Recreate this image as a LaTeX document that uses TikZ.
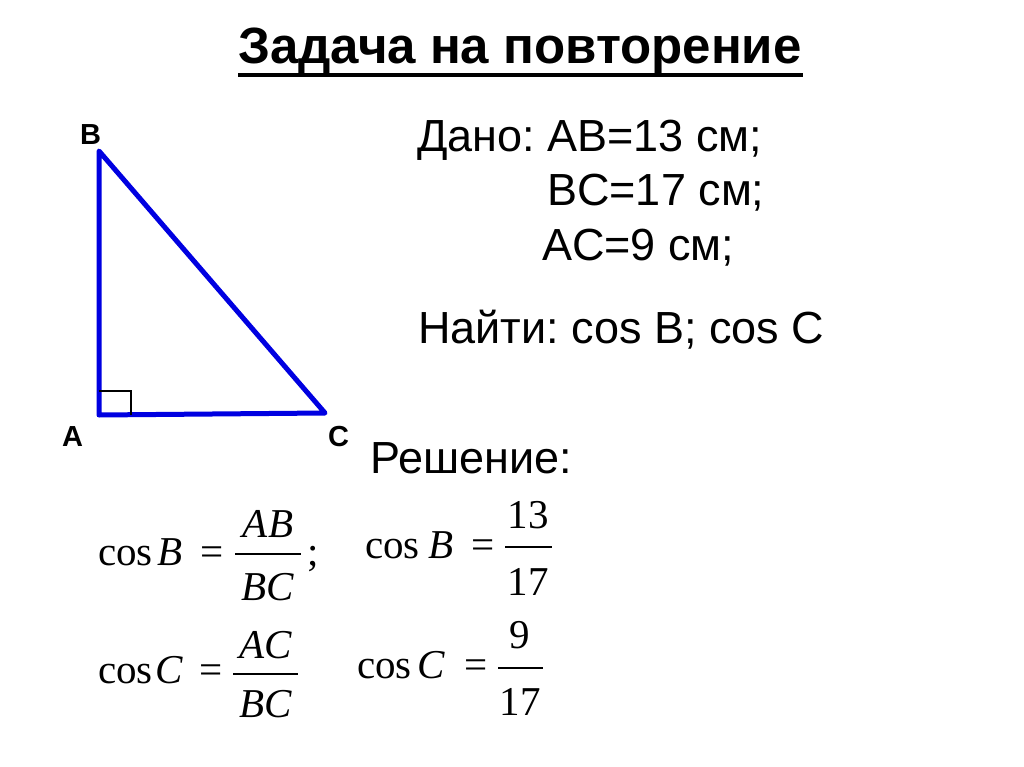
\documentclass[tikz,border=0pt]{standalone}
\usepackage[no-math]{fontspec}
\setmainfont{Liberation Sans}
\newfontfamily\timesfont{Liberation Serif}
\definecolor{seite}{RGB}{0,0,225}
\frenchspacing
\begin{document}
\begin{tikzpicture}[x=1pt,y=-1pt,
    txt/.style={inner sep=0pt,anchor=base west,font=\fontsize{45}{54}\selectfont},
    ecke/.style={inner sep=0pt,anchor=base west,font=\fontsize{29}{34}\selectfont\bfseries},
    frm/.style={inner sep=0pt,anchor=base west,font=\fontsize{41}{49}\timesfont},
    bruch/.style={inner sep=0pt,anchor=base,font=\fontsize{41}{49}\timesfont},
    strich/.style={line width=2pt}]
    \useasboundingbox (0,0) rectangle (1024,767);
    % Titel
    \node[inner sep=0pt,anchor=base west,font=\fontsize{51}{61}\selectfont\bfseries] (titel) at (238,64) {Задача на повторение};
    \draw[line width=4pt] (titel.base west) ++(0,11) -- ++(565,0);
    % Dreieck
    \coordinate (A) at (99,415);
    \coordinate (B) at (99,151);
    \coordinate (C) at (325,413);
    \draw[seite,line width=5pt,line join=round] (A) -- (B) -- (C) -- cycle;
    \draw[line width=2pt] (99,391) -- (131,391) -- (131,415);
    \node[ecke] (lB) at (80,145) {B};
    \node[ecke] (lA) at (62,446) {A};
    \node[ecke] (lC) at (328,446) {C};
    % Gegeben
    \node[txt] (geg1) at (417,152) {Дано: AB=13 см;};
    \node[txt] (geg2) at (547,206) {BC=17 см;};
    \node[txt] (geg3) at (542,260) {AC=9 см;};
    \node[txt] (ges) at (418,343) {Найти: cos B; cos C};
    \node[txt] (loes) at (370,473) {Решение:};
    % Formeln links
    \node[frm] (cos1) at (98,565) {cos};
    \node[frm] (b1) at (157,565) {\textit{B}};
    \node[frm] (gl1) at (200,565) {=};
    \draw[strich] (235,554) -- (301,554);
    \node[bruch] (zB1) at (268,537) {\textit{AB}};
    \node[bruch] (nB1) at (268,600) {\textit{BC}};
    \node[frm] (semi) at (307,565) {;};
    \node[frm] (cos2) at (98,683) {cos};
    \node[frm] (c2) at (155,683) {\textit{C}};
    \node[frm] (gl2) at (199,683) {=};
    \draw[strich] (233,674) -- (298,674);
    \node[bruch] (zC1) at (266,658) {\textit{AC}};
    \node[bruch] (nC1) at (266,717) {\textit{BC}};
    % Formeln rechts
    \node[frm] (cos3) at (365,558) {cos};
    \node[frm] (b3) at (428,558) {\textit{B}};
    \node[frm] (gl3) at (471,558) {=};
    \draw[strich] (505,547) -- (552,547);
    \node[bruch] (zB2) at (528,528) {13};
    \node[bruch] (nB2) at (528,595) {17};
    \node[frm] (cos4) at (357,678) {cos};
    \node[frm] (c4) at (417,678) {\textit{C}};
    \node[frm] (gl4) at (464,678) {=};
    \draw[strich] (498,668) -- (543,668);
    \node[bruch] (zC2) at (520,648) {9};
    \node[bruch] (nC2) at (520,715) {17};
\end{tikzpicture}
\end{document}
